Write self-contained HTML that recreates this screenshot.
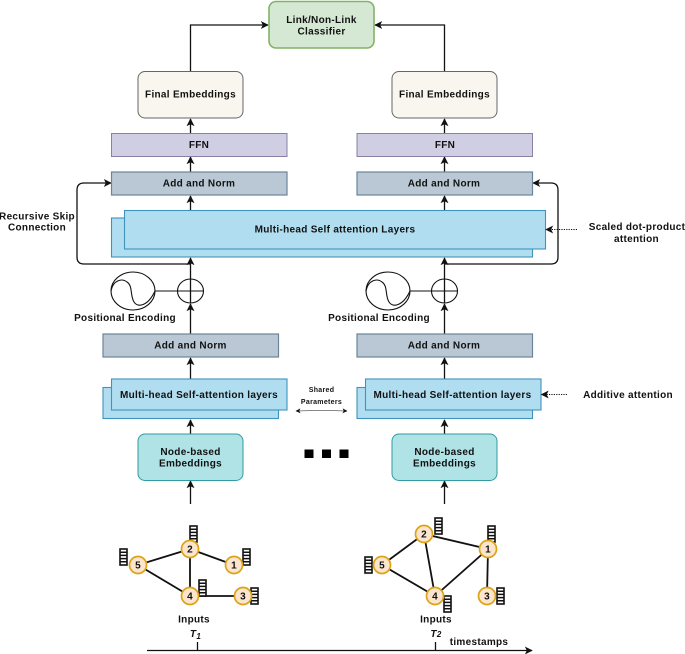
<!DOCTYPE html>
<html><head><meta charset="utf-8">
<style>
html,body{margin:0;padding:0;background:#fff;width:685px;height:654px;overflow:hidden}
svg{display:block;filter:blur(.3px)}
text{font-family:"Liberation Sans",sans-serif;font-weight:bold;fill:#111;text-anchor:middle;font-size:10px;letter-spacing:.3px}
.l{fill:none;stroke:#111;stroke-width:1.3}
.t{stroke:#111;stroke-width:1.8}
.g{fill:#f8f6ee;stroke:#666;stroke-width:1}
.p{fill:#d0cee2;stroke:#8b7fa8;stroke-width:1}
.n{fill:#b9c8d4;stroke:#6b8499;stroke-width:1.2}
.b{fill:#b1ddf0;stroke:#3f93bd;stroke-width:1.1}
.e{fill:#b0e3e6;stroke:#2f9ba3;stroke-width:1}
.c{fill:#fbe5cd;stroke:#dda316;stroke-width:1.7}
.s{fill:#fff;stroke:#111;stroke-width:1.6}
.w{fill:#fff;stroke:#111;stroke-width:1.1}
</style></head><body>
<svg width="685" height="654" viewBox="0 0 685 654" xmlns="http://www.w3.org/2000/svg">
<defs>
<marker id="a" viewBox="0 0 10 10" refX="9" refY="5" markerWidth="8" markerHeight="8" markerUnits="userSpaceOnUse" orient="auto"><path d="M0 0L10 5L0 10L2.500 5Z" fill="#111"/></marker>
<marker id="m" viewBox="0 0 10 10" refX="9" refY="5" markerWidth="5" markerHeight="5" markerUnits="userSpaceOnUse" orient="auto-start-reverse"><path d="M0 0L10 5L0 10L2.500 5Z" fill="#111"/></marker>
<g id="st"><rect class="s" x="0" y="0" width="7" height="16"/><path d="M0 3.200H7M0 6.400H7M0 9.600H7M0 12.800H7" stroke="#111" stroke-width="1.500"/></g>
<g id="sine"><ellipse class="w" cx="0" cy="0" rx="22" ry="19"/><path class="l" style="stroke-width:1.100" d="M-22 0C-20 -11-11 -13-6 -9C0 -5-3 5 1 11C5 17 15 15 22 0"/></g>
</defs>

<!-- top connectors -->
<path class="l" marker-end="url(#a)" d="M190.500 71V25H268"/>
<path class="l" marker-end="url(#a)" d="M444.500 71V25H375"/>
<rect x="269" y="1.500" width="105" height="46.500" rx="7" fill="#d5e8d4" stroke="#82b366" stroke-width="1.600"/>
<text x="321.500" y="23">Link/Non-Link</text><text x="321.500" y="34.500">Classifier</text>

<!-- left column vertical arrows -->
<path class="l" marker-end="url(#a)" d="M190.500 133V119"/>
<path class="l" marker-end="url(#a)" d="M190.500 172V157"/>
<path class="l" marker-end="url(#a)" d="M190.500 210V196"/>
<path class="l" marker-end="url(#a)" d="M190.500 334V304"/>
<path class="l" marker-end="url(#a)" d="M190.500 379V358"/>
<path class="l" marker-end="url(#a)" d="M190.500 434V420"/>
<path class="l" marker-end="url(#a)" d="M190.500 504V481"/>
<!-- right column vertical arrows -->
<path class="l" marker-end="url(#a)" d="M444.500 133V119"/>
<path class="l" marker-end="url(#a)" d="M444.500 172V157"/>
<path class="l" marker-end="url(#a)" d="M444.500 210V196"/>
<path class="l" marker-end="url(#a)" d="M444.500 334V304"/>
<path class="l" marker-end="url(#a)" d="M444.500 379V358"/>
<path class="l" marker-end="url(#a)" d="M444.500 434V420"/>
<path class="l" marker-end="url(#a)" d="M444.500 504V481"/>

<!-- skip connections -->
<path class="l" marker-end="url(#a)" d="M190.500 264H84Q77 264 77 257V190Q77 183 84 183H111"/>
<path class="l" marker-end="url(#a)" d="M444.500 264H551Q558 264 558 257V190Q558 183 551 183H533"/>

<!-- left boxes -->
<rect class="g" x="138" y="71.500" width="105" height="46.500" rx="7"/>
<text x="190.500" y="97.500">Final Embeddings</text>
<rect class="p" x="111.500" y="133.500" width="175.500" height="23"/>
<text x="199" y="148">FFN</text>
<rect class="n" x="111.500" y="172" width="175.500" height="23"/>
<text x="199" y="186.500">Add and Norm</text>
<rect class="b" x="111.500" y="218" width="421" height="39"/>
<rect class="b" x="124.500" y="210.500" width="421" height="38.500"/>
<text x="335" y="232.500">Multi-head Self attention Layers</text>

<!-- right boxes -->
<rect class="g" x="392" y="71.500" width="105" height="46.500" rx="7"/>
<text x="444.500" y="97.500">Final Embeddings</text>
<rect class="p" x="357" y="133.500" width="175.500" height="23"/>
<text x="445" y="148">FFN</text>
<rect class="n" x="357" y="172" width="175.500" height="23"/>
<text x="444" y="186.500">Add and Norm</text>

<!-- scaled label -->
<path class="l" style="stroke-width:.9" stroke-dasharray="1.200 1.200" marker-end="url(#a)" d="M577 229.500H546"/>
<text x="637" y="230">Scaled dot-product</text>
<text x="636.500" y="242">attention</text>
<text x="37" y="219.500">Recursive Skip</text>
<text x="37" y="230.500">Connection</text>

<!-- positional encodings -->
<use href="#sine" x="133" y="291"/>
<ellipse class="l" style="stroke-width:1.100" cx="190.500" cy="291" rx="13" ry="12"/>
<path class="l" style="stroke-width:1.100" d="M155 291H203.500"/>
<path class="l" marker-end="url(#a)" d="M190.500 303V258"/>
<text x="125" y="321">Positional Encoding</text>
<use href="#sine" x="388" y="291"/>
<ellipse class="l" style="stroke-width:1.100" cx="444.500" cy="291" rx="13" ry="12"/>
<path class="l" style="stroke-width:1.100" d="M410 291H457.500"/>
<path class="l" marker-end="url(#a)" d="M444.500 303V258"/>
<text x="379" y="321">Positional Encoding</text>

<!-- lower boxes left -->
<rect class="n" x="103" y="334" width="175.500" height="23"/>
<text x="190.500" y="348.500">Add and Norm</text>
<rect class="b" x="103" y="387.500" width="175.500" height="31"/>
<rect class="b" x="111.500" y="379" width="175.500" height="31"/>
<text x="199" y="398">Multi-head Self-attention layers</text>
<rect class="e" x="138" y="434" width="105" height="46.500" rx="7"/>
<text x="190.500" y="455">Node-based</text><text x="190.500" y="466.500">Embeddings</text>

<!-- lower boxes right -->
<rect class="n" x="357" y="334" width="175.500" height="23"/>
<text x="444" y="348.500">Add and Norm</text>
<rect class="b" x="357" y="387.500" width="175.500" height="31"/>
<rect class="b" x="365.500" y="379" width="175.500" height="31"/>
<text x="452.500" y="398">Multi-head Self-attention layers</text>
<rect class="e" x="392" y="434" width="105" height="46.500" rx="7"/>
<text x="444.500" y="455">Node-based</text><text x="444.500" y="466.500">Embeddings</text>

<!-- additive -->
<path class="l" style="stroke-width:.9" stroke-dasharray="1.200 1.200" marker-end="url(#a)" d="M567 394.500H541.500"/>
<text x="628" y="398">Additive attention</text>

<!-- shared -->
<text x="321.500" y="392" style="font-size:7px">Shared</text>
<text x="321.500" y="404" style="font-size:7px">Parameters</text>
<path class="l" style="stroke-width:.5" marker-start="url(#m)" marker-end="url(#m)" d="M296 411Q321.500 410 347 411"/>
<rect x="304.500" y="449.500" width="9" height="8.500" fill="#000"/>
<rect x="322" y="449.500" width="9" height="8.500" fill="#000"/>
<rect x="339.500" y="449.500" width="9" height="8.500" fill="#000"/>

<!-- graph 1 -->
<path class="t" fill="none" d="M190 549L138 565L190 596M190 549V596H243M190 549L234 565"/>
<use href="#st" x="190" y="526"/>
<use href="#st" x="120" y="549"/>
<use href="#st" x="243" y="549"/>
<use href="#st" x="199" y="580"/>
<use href="#st" x="251" y="588"/>
<circle class="c" cx="190" cy="549" r="8.500"/><text x="190" y="552.500">2</text>
<circle class="c" cx="138" cy="565" r="8.500"/><text x="138" y="568.500">5</text>
<circle class="c" cx="234" cy="565" r="8.500"/><text x="234" y="568.500">1</text>
<circle class="c" cx="190" cy="596" r="8.500"/><text x="190" y="599.500">4</text>
<circle class="c" cx="243" cy="596" r="8.500"/><text x="243" y="599.500">3</text>

<!-- graph 2 -->
<path class="t" fill="none" d="M424 534L382 565L435 596L424 534L488 549L435 596M488 549L487 596"/>
<use href="#st" x="435" y="518"/>
<use href="#st" x="488" y="526"/>
<use href="#st" x="365" y="557"/>
<use href="#st" x="444" y="596"/>
<use href="#st" x="497" y="588"/>
<circle class="c" cx="424" cy="534" r="8.500"/><text x="424" y="537.500">2</text>
<circle class="c" cx="488" cy="549" r="8.500"/><text x="488" y="552.500">1</text>
<circle class="c" cx="382" cy="565" r="8.500"/><text x="382" y="568.500">5</text>
<circle class="c" cx="435" cy="596" r="8.500"/><text x="435" y="599.500">4</text>
<circle class="c" cx="487" cy="596" r="8.500"/><text x="487" y="599.500">3</text>

<!-- timeline -->
<text x="194" y="622.500">Inputs</text>
<text x="436" y="622.500">Inputs</text>
<text x="195.500" y="637" style="font-style:italic">T<tspan dy="2" style="font-size:8px">1</tspan></text>
<text x="436" y="637" style="font-style:italic">T<tspan style="font-size:8px" dy="0">2</tspan></text>
<text x="479" y="645">timestamps</text>
<path class="l" marker-end="url(#a)" d="M147 650.500H532"/>
<path class="l" d="M197.500 642V650M435.500 642V650"/>
</svg>
</body></html>
